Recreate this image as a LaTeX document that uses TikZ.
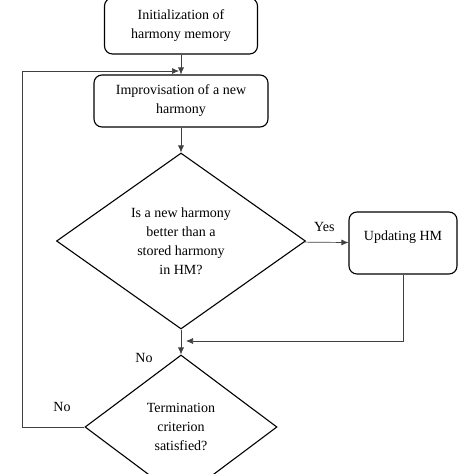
\documentclass[tikz,border=0pt]{standalone}
\usepackage{fontspec}
\setmainfont{Liberation Serif}
\usetikzlibrary{shapes.geometric, arrows.meta}
\definecolor{edge}{gray}{0.25}

\begin{document}
\begin{tikzpicture}[x=1pt, y=-1pt, thick,
  font=\fontsize{14}{19}\selectfont,
  process/.style={draw, rounded corners=8pt, line width=1.1pt, align=center, inner sep=2pt},
  decision/.style={draw, diamond, line width=1.1pt, align=center, inner sep=0pt},
  link/.style={draw=edge, line width=0.7pt, -{Latex[length=7pt, width=6pt]}}]
  \useasboundingbox (0, 0) rectangle (474, 474);

  \node[process, minimum width=153pt, minimum height=56pt] (init) at (181, 26) {Initialization of\\harmony memory};
  \node[process, minimum width=174pt, minimum height=52pt] (improv) at (181, 101) {Improvisation of a new\\harmony};
  \node[decision, minimum width=249pt, minimum height=176pt, aspect=1.41] (better) at (181, 241) {Is a new harmony\\better than a\\stored harmony\\in HM?};
  \node[process, minimum width=108pt, minimum height=62pt, text depth=14pt] (update) at (403, 243) {Updating HM};
  \node[decision, minimum width=192pt, minimum height=144pt, aspect=1.33] (stop) at (181, 427) {Termination\\criterion\\satisfied?};

  \coordinate (loopin) at (179, 71);
  \coordinate (loopcorner) at (22, 71);
  \coordinate (merge) at (186, 341);

  \draw[link] (init) -- (improv);
  \draw[link] (improv) -- (better);
  \draw[link] (better) -- node[above, pos=0.45, yshift=7pt] {Yes} (update);
  \draw[link] (update.south) |- (merge);
  \draw[link] (better) -- (stop);
  \draw[link] (stop.west) -| (loopcorner) -- (loopin);

  \node (nobetter) at (144, 358) {No};
  \node (nostop) at (62, 407) {No};
\end{tikzpicture}
\end{document}
